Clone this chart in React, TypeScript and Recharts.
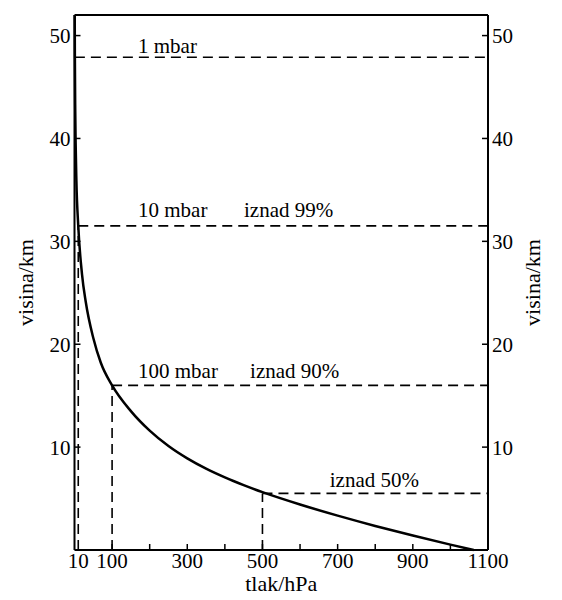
import { LineChart, Line, XAxis, YAxis, ReferenceLine, ReferenceDot, Label } from 'recharts'

// pressure (hPa) vs altitude (km)
const pressure = [0.6, 1, 2, 3, 5, 10, 20, 30, 50, 70, 100, 150, 200, 250, 300, 350, 400, 450, 500, 600, 700, 800, 900, 1000, 1062]
const height = [52, 47.9, 42.6, 39.6, 35.9, 31.5, 26.8, 24.1, 20.6, 18.2, 16.0, 13.5, 11.6, 10.1, 8.9, 7.9, 7.05, 6.3, 5.62, 4.42, 3.34, 2.34, 1.41, 0.52, 0]

const xTicks = [10, 100, 200, 300, 400, 500, 600, 700, 800, 900, 1000, 1100]
const xTickLabels = [10, 100, 300, 500, 700, 900, 1100]
const yTicks = [10, 20, 30, 40, 50]

// marked levels: 1, 10, 100 and 500 hPa
const levelPressure = [1, 10, 100, 500]
const levelHeight = [47.9, 31.5, 16.0, 5.5]

const data = pressure.map((p, i) => ({ p, h: height[i] }))

const FONT = 'Liberation Serif, Tinos, "Nimbus Roman", "Noto Serif", FreeSerif, "DejaVu Serif", "Times New Roman", Times, serif'
const dash = { stroke: '#000', strokeWidth: 1.6, strokeDasharray: '10 6' }
const GAP = 4
const XGAP = 3

const XTick = (props: any) => {
  const v = props.payload.value
  const axisY = props.y - XGAP
  return (
    <g>
      {v !== 10 && v !== 1100 && <line x1={props.x} x2={props.x} y1={axisY} y2={axisY - 6} stroke="#000" strokeWidth={1.5} />}
      {xTickLabels.includes(v) && (
        <text x={props.x} y={props.y} dy="0.71em" textAnchor="middle" fontSize={21} fill="#000" style={{ fontFamily: FONT }}>
          {v}
        </text>
      )}
    </g>
  )
}

const LeftTick = (props: any) => (
  <g>
    <line x1={props.x + GAP} x2={props.x + GAP + 6} y1={props.y} y2={props.y} stroke="#000" strokeWidth={1.5} />
    <text x={props.x} y={props.y} dy="0.355em" textAnchor="end" fontSize={21} fill="#000" style={{ fontFamily: FONT }}>
      {props.payload.value}
    </text>
  </g>
)

const RightTick = (props: any) => (
  <g>
    <line x1={props.x - GAP} x2={props.x - GAP - 6} y1={props.y} y2={props.y} stroke="#000" strokeWidth={1.5} />
    <text x={props.x} y={props.y} dy="0.355em" textAnchor="start" fontSize={21} fill="#000" style={{ fontFamily: FONT }}>
      {props.payload.value}
    </text>
  </g>
)

const note = (value: string) => ({ value, position: 'right' as const, offset: 0, fontSize: 21, fill: '#000', style: { fontFamily: FONT } })

export default function App() {
  return (
    <div style={{ width: 546, height: 590, fontFamily: FONT }}>
      <LineChart width={546} height={590} data={data} margin={{ top: 7, right: 0, bottom: 0, left: 0 }}>
        <XAxis
          dataKey="p"
          type="number"
          domain={[0, 1100]}
          ticks={xTicks}
          interval={0}
          height={48}
          tickSize={0}
          tickMargin={XGAP}
          axisLine={{ stroke: '#000', strokeWidth: 2 }}
          tickLine={false}
          tick={XTick}
        >
          <Label value="tlak/hPa" position="insideBottom" offset={7} style={{ fontSize: 22, fill: '#000', fontFamily: FONT }} />
        </XAxis>
        <YAxis
          yAxisId="l"
          type="number"
          domain={[0, 52]}
          ticks={yTicks}
          interval={0}
          width={66.5}
          tickSize={0}
          tickMargin={GAP}
          axisLine={{ stroke: '#000', strokeWidth: 2 }}
          tickLine={false}
          tick={LeftTick}
        >
          <Label value="visina/km" angle={-90} position="insideLeft" offset={17} style={{ textAnchor: 'middle', fontSize: 22, fill: '#000', fontFamily: FONT }} />
        </YAxis>
        <YAxis
          yAxisId="r"
          orientation="right"
          type="number"
          domain={[0, 52]}
          ticks={yTicks}
          interval={0}
          width={66}
          tickSize={0}
          tickMargin={GAP}
          axisLine={{ stroke: '#000', strokeWidth: 2 }}
          tickLine={false}
          tick={RightTick}
        >
          <Label value="visina/km" angle={-90} position="insideRight" offset={22} style={{ textAnchor: 'middle', fontSize: 22, fill: '#000', fontFamily: FONT }} />
        </YAxis>

        <ReferenceLine yAxisId="l" y={52} stroke="#000" strokeWidth={2} />

        {levelPressure.map((p, i) => (
          <ReferenceLine
            key={'h' + i}
            yAxisId="l"
            segment={[{ x: p, y: levelHeight[i] }, { x: 1100, y: levelHeight[i] }]}
            {...dash}
          />
        ))}
        {levelPressure.slice(1).map((p, i) => (
          <ReferenceLine
            key={'v' + i}
            yAxisId="l"
            segment={[{ x: p, y: 0 }, { x: p, y: levelHeight[i + 1] }]}
            {...dash}
          />
        ))}

        <ReferenceDot yAxisId="l" x={169} y={49.0} r={0} label={note('1 mbar')} />
        <ReferenceDot yAxisId="l" x={169} y={33.1} r={0} label={note('10 mbar')} />
        <ReferenceDot yAxisId="l" x={451} y={33.1} r={0} label={note('iznad 99%')} />
        <ReferenceDot yAxisId="l" x={169} y={17.4} r={0} label={note('100 mbar')} />
        <ReferenceDot yAxisId="l" x={467} y={17.4} r={0} label={note('iznad 90%')} />
        <ReferenceDot yAxisId="l" x={679} y={6.8} r={0} label={note('iznad 50%')} />

        <Line yAxisId="l" dataKey="h" type="monotone" stroke="#000" strokeWidth={2.5} dot={false} isAnimationActive={false} />
        {/* same curve on the right axis (invisible) so the mirrored axis gets its ticks */}
        <Line yAxisId="r" dataKey="h" type="monotone" stroke="none" dot={false} activeDot={false} legendType="none" isAnimationActive={false} />
      </LineChart>
    </div>
  )
}
